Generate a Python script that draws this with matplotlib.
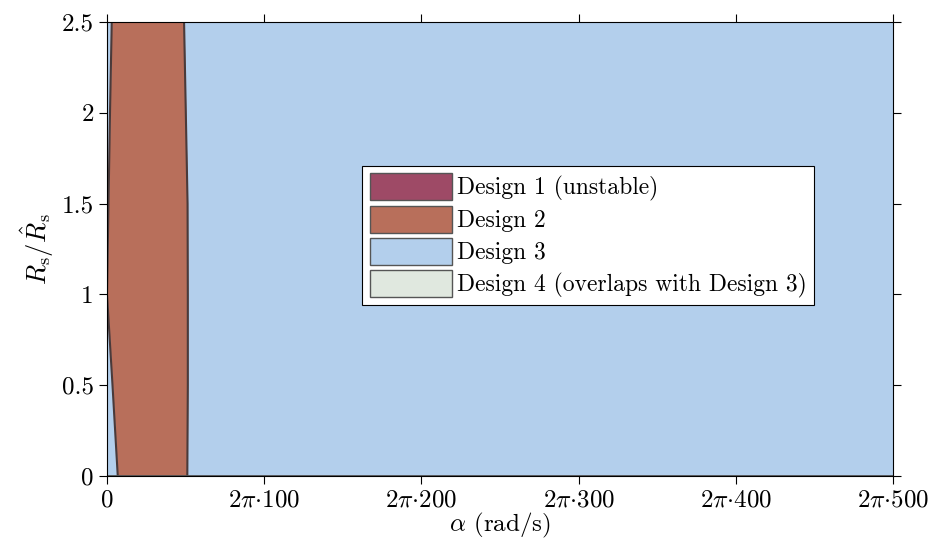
import numpy as np
import matplotlib
matplotlib.use("Agg")
import matplotlib.pyplot as plt

plt.rcParams['font.family'] = 'serif'
plt.rcParams['font.serif'] = ['cmr10']
plt.rcParams['mathtext.fontset'] = 'cm'
plt.rcParams['axes.formatter.use_mathtext'] = True

# boundaries of Design 2 region (alpha in rad/s) vs Rs ratio
r_vals = [0.0, 0.5, 1.0, 1.5, 2.0, 2.5]
d2_left = [43, 22, 0, 6, 12, 19]
d2_right = [321, 323, 323, 322, 315, 308]
x_max = 2 * np.pi * 500
tick_vals = [0, 100, 200, 300, 400, 500]
tick_labels = ['0'] + [r'$2\pi{\cdot}%d$' % v for v in tick_vals[1:]]

c1, c2, c3, c4 = '#9e4a66', '#b86f5b', '#b3cfec', '#e0e8df'

fig = plt.figure(figsize=(9.4, 5.6), dpi=100)
ax = fig.add_axes([107/940, 1-476/560, 786/940, 454/560])
ax.fill_between([0, x_max], 0, 2.5, color=c3, lw=0)
ax.fill_betweenx(r_vals, d2_left, d2_right, color=c2, lw=0)
ax.plot(d2_left, r_vals, color='#4a3a3a', lw=1.5)
ax.plot(d2_right, r_vals, color='#4a3a3a', lw=1.5)
ax.axhline(0, color='#555555', lw=2)
ax.set_xlim(0, x_max)
ax.set_ylim(0, 2.5)
ax.set_xticks([2*np.pi*v for v in tick_vals])
ax.set_xticklabels(tick_labels)
ax.set_yticks([0, 0.5, 1, 1.5, 2, 2.5])
ax.set_yticklabels(['0', '0.5', '1', '1.5', '2', '2.5'])
ax.tick_params(direction='out', top=True, right=True, labelsize=18, length=6)
ax.set_xlabel(r'$\alpha$ (rad/s)', fontsize=18, labelpad=0)
ax.set_ylabel(r'$R_\mathrm{s}/\hat{R}_\mathrm{s}$', fontsize=19, labelpad=4)

from matplotlib.patches import Patch
handles = [Patch(facecolor=c, edgecolor='#555555') for c in (c1, c2, c3, c4)]
labels = ['Design 1 (unstable)', 'Design 2', 'Design 3', 'Design 4 (overlaps with Design 3)']
leg = ax.legend(handles, labels, loc='center left', bbox_to_anchor=(0.31, 0.53),
                fontsize=17, fancybox=False, edgecolor='black', framealpha=1,
                handlelength=3.5, handleheight=1.4, handletextpad=0.2,
                labelspacing=0.2, borderpad=0.3)
leg.get_frame().set_linewidth(0.8)
fig.savefig('out.png', dpi=100)
